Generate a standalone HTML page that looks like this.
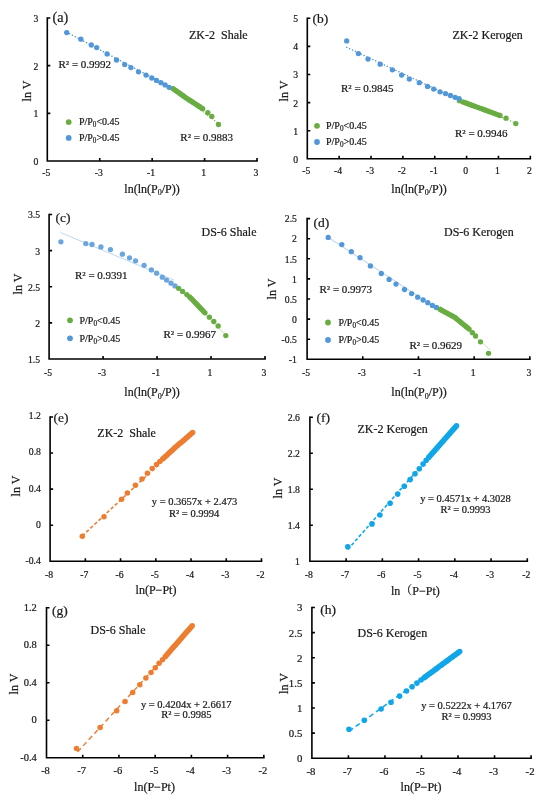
<!DOCTYPE html>
<html lang="en"><head><meta charset="utf-8"><title>FHH fractal plots</title>
<style>html,body{margin:0;padding:0;background:#fff}svg{display:block}text{font-family:"Liberation Serif","Times New Roman",serif;fill:#1a1a1a;stroke:#1a1a1a;stroke-width:0.22px}</style>
</head><body>
<svg width="550" height="807" viewBox="0 0 550 807">
<rect width="550" height="807" fill="#fff"/>
<g id="panel-a">
<path d="M47.3 17.2V161H257.8" fill="none" stroke="#000" stroke-width="1.6"/>
<path d="M99.73 161v-3M152.16 161v-3M204.59 161v-3M257.02 161v-3M47.3 113.33h3M47.3 65.66h3M47.3 17.99h3" fill="none" stroke="#000" stroke-width="1.6"/>
<text x="46.3" y="176.3" font-size="9.7" text-anchor="middle" >-5</text>
<text x="98.73" y="176.3" font-size="9.7" text-anchor="middle" >-3</text>
<text x="151.16" y="176.3" font-size="9.7" text-anchor="middle" >-1</text>
<text x="203.59" y="176.3" font-size="9.7" text-anchor="middle" >1</text>
<text x="256.02" y="176.3" font-size="9.7" text-anchor="middle" >3</text>
<text x="38.3" y="164.9" font-size="9.7" text-anchor="end" >0</text>
<text x="38.3" y="117.23" font-size="9.7" text-anchor="end" >1</text>
<text x="38.3" y="69.56" font-size="9.7" text-anchor="end" >2</text>
<text x="38.3" y="21.89" font-size="9.7" text-anchor="end" >3</text>
<line x1="66.7" y1="32.2" x2="171" y2="87.6" stroke="#5297d8" stroke-width="1.5" stroke-dasharray="0.1 3.1" stroke-linecap="round"/>
<line x1="173" y1="89" x2="218.5" y2="123.5" stroke="#69ad42" stroke-width="1.2" stroke-dasharray="0.1 2.8" stroke-linecap="round"/>
<g fill="#69ad42"><circle cx="173.1" cy="88.7" r="2.65"/><circle cx="174.71" cy="89.84" r="2.65"/><circle cx="176.32" cy="90.97" r="2.65"/><circle cx="177.94" cy="92.11" r="2.65"/><circle cx="179.55" cy="93.25" r="2.65"/><circle cx="181.16" cy="94.38" r="2.65"/><circle cx="182.77" cy="95.52" r="2.65"/><circle cx="184.38" cy="96.66" r="2.65"/><circle cx="185.99" cy="97.8" r="2.65"/><circle cx="187.61" cy="98.85" r="2.65"/><circle cx="189.22" cy="99.9" r="2.65"/><circle cx="190.83" cy="100.95" r="2.65"/><circle cx="192.44" cy="102" r="2.65"/><circle cx="194.05" cy="103.06" r="2.65"/><circle cx="195.66" cy="104.11" r="2.65"/><circle cx="197.28" cy="105.16" r="2.65"/><circle cx="198.89" cy="106.21" r="2.65"/><circle cx="200.5" cy="107.26" r="2.65"/><circle cx="202.7" cy="108.7" r="2.65"/><circle cx="207.8" cy="112.7" r="2.65"/><circle cx="211.8" cy="116.4" r="2.65"/><circle cx="218.5" cy="124.5" r="2.65"/></g>
<g fill="#5297d8"><circle cx="66.7" cy="32.6" r="2.65"/><circle cx="80.9" cy="39.2" r="2.65"/><circle cx="91.3" cy="45" r="2.65"/><circle cx="96.7" cy="47.6" r="2.65"/><circle cx="107.1" cy="53.9" r="2.65"/><circle cx="116.5" cy="60" r="2.65"/><circle cx="124.7" cy="64.6" r="2.65"/><circle cx="130.9" cy="67.6" r="2.65"/><circle cx="138.5" cy="71.8" r="2.65"/><circle cx="146" cy="75.1" r="2.65"/><circle cx="151.8" cy="78" r="2.65"/><circle cx="156.5" cy="80.4" r="2.65"/><circle cx="160.9" cy="82.7" r="2.65"/><circle cx="165.1" cy="84.9" r="2.65"/><circle cx="169.1" cy="87.3" r="2.65"/></g>
<text x="52.5" y="22.1" font-size="14.2" text-anchor="start" >(a)</text>
<text x="189" y="39.3" font-size="12" text-anchor="start" >ZK-2&#160; Shale</text>
<text x="58.5" y="68" font-size="11" text-anchor="start" >R² = 0.9992</text>
<text x="180.3" y="141.2" font-size="11" text-anchor="start" >R² = 0.9883</text>
<circle cx="68.7" cy="122.1" r="2.9" fill="#69ad42"/>
<circle cx="68.7" cy="137.9" r="2.9" fill="#5297d8"/>
<text x="78.9" y="125.4" font-size="10" text-anchor="start" >P/P<tspan font-size="7.2" dy="2">0</tspan><tspan dy="-2">&lt;0.45</tspan></text>
<text x="78.9" y="141.2" font-size="10" text-anchor="start" >P/P<tspan font-size="7.2" dy="2">0</tspan><tspan dy="-2">&gt;0.45</tspan></text>
<text transform="translate(30.5 91) rotate(-90)" font-size="12" text-anchor="middle">ln V</text>
<text x="152" y="192.5" font-size="12" text-anchor="middle" >ln(ln(P<tspan font-size="8" dy="2.5">0</tspan><tspan dy="-2.5">/P))</tspan></text>
</g>
<g id="panel-b">
<path d="M307.3 17.5V158.8H531.1" fill="none" stroke="#000" stroke-width="1.6"/>
<path d="M339.16 158.8v-3M371.02 158.8v-3M402.88 158.8v-3M434.74 158.8v-3M466.6 158.8v-3M498.46 158.8v-3M530.32 158.8v-3M307.3 130.7h3M307.3 102.6h3M307.3 74.5h3M307.3 46.4h3M307.3 18.3h3" fill="none" stroke="#000" stroke-width="1.6"/>
<text x="306.3" y="173.7" font-size="9.7" text-anchor="middle" >-5</text>
<text x="338.16" y="173.7" font-size="9.7" text-anchor="middle" >-4</text>
<text x="370.02" y="173.7" font-size="9.7" text-anchor="middle" >-3</text>
<text x="401.88" y="173.7" font-size="9.7" text-anchor="middle" >-2</text>
<text x="433.74" y="173.7" font-size="9.7" text-anchor="middle" >-1</text>
<text x="465.6" y="173.7" font-size="9.7" text-anchor="middle" >0</text>
<text x="497.46" y="173.7" font-size="9.7" text-anchor="middle" >1</text>
<text x="529.32" y="173.7" font-size="9.7" text-anchor="middle" >2</text>
<text x="298.1" y="162.7" font-size="9.7" text-anchor="end" >0</text>
<text x="298.1" y="134.6" font-size="9.7" text-anchor="end" >1</text>
<text x="298.1" y="106.5" font-size="9.7" text-anchor="end" >2</text>
<text x="298.1" y="78.4" font-size="9.7" text-anchor="end" >3</text>
<text x="298.1" y="50.3" font-size="9.7" text-anchor="end" >4</text>
<text x="298.1" y="22.2" font-size="9.7" text-anchor="end" >5</text>
<line x1="346.7" y1="47.3" x2="459.5" y2="100.2" stroke="#5297d8" stroke-width="1.5" stroke-dasharray="0.1 3.1" stroke-linecap="round"/>
<line x1="462" y1="101.5" x2="515.8" y2="123" stroke="#69ad42" stroke-width="1.2" stroke-dasharray="0.1 2.8" stroke-linecap="round"/>
<g fill="#69ad42"><circle cx="459.4" cy="100.7" r="2.65"/><circle cx="462.6" cy="101.8" r="2.65"/><circle cx="464.57" cy="102.52" r="2.65"/><circle cx="466.54" cy="103.24" r="2.65"/><circle cx="468.51" cy="103.96" r="2.65"/><circle cx="470.47" cy="104.68" r="2.65"/><circle cx="472.44" cy="105.41" r="2.65"/><circle cx="474.41" cy="106.13" r="2.65"/><circle cx="476.38" cy="106.85" r="2.65"/><circle cx="478.35" cy="107.57" r="2.65"/><circle cx="480.32" cy="108.29" r="2.65"/><circle cx="482.28" cy="109.01" r="2.65"/><circle cx="484.25" cy="109.73" r="2.65"/><circle cx="486.22" cy="110.45" r="2.65"/><circle cx="488.19" cy="111.17" r="2.65"/><circle cx="490.16" cy="111.89" r="2.65"/><circle cx="492.13" cy="112.62" r="2.65"/><circle cx="494.09" cy="113.34" r="2.65"/><circle cx="496.06" cy="114.06" r="2.65"/><circle cx="498.03" cy="114.78" r="2.65"/><circle cx="500" cy="115.5" r="2.65"/><circle cx="506" cy="118.2" r="2.65"/><circle cx="515.8" cy="123.6" r="2.65"/></g>
<g fill="#5297d8"><circle cx="346.7" cy="40.9" r="2.65"/><circle cx="358.4" cy="53.6" r="2.65"/><circle cx="368" cy="59.1" r="2.65"/><circle cx="380.2" cy="64.2" r="2.65"/><circle cx="392.4" cy="69.8" r="2.65"/><circle cx="401.6" cy="75.1" r="2.65"/><circle cx="409.3" cy="79.1" r="2.65"/><circle cx="419.3" cy="82.7" r="2.65"/><circle cx="427.5" cy="86.4" r="2.65"/><circle cx="433.7" cy="89.1" r="2.65"/><circle cx="440" cy="91.8" r="2.65"/><circle cx="445.5" cy="93.6" r="2.65"/><circle cx="450.4" cy="95.5" r="2.65"/><circle cx="455.1" cy="97.3" r="2.65"/><circle cx="459.1" cy="98.7" r="2.65"/></g>
<text x="312.5" y="22.5" font-size="13.5" text-anchor="start" >(b)</text>
<text x="452.5" y="39.3" font-size="12" text-anchor="start" >ZK-2 Kerogen</text>
<text x="341" y="91.5" font-size="11" text-anchor="start" >R² = 0.9845</text>
<text x="455" y="136.5" font-size="11" text-anchor="start" >R² = 0.9946</text>
<circle cx="317" cy="125.8" r="2.9" fill="#69ad42"/>
<circle cx="317" cy="142" r="2.9" fill="#5297d8"/>
<text x="326" y="129.1" font-size="10" text-anchor="start" >P/P<tspan font-size="7.2" dy="2">0</tspan><tspan dy="-2">&lt;0.45</tspan></text>
<text x="326" y="145.3" font-size="10" text-anchor="start" >P/P<tspan font-size="7.2" dy="2">0</tspan><tspan dy="-2">&gt;0.45</tspan></text>
<text transform="translate(287.7 91) rotate(-90)" font-size="12" text-anchor="middle">ln V</text>
<text x="419" y="192.5" font-size="12" text-anchor="middle" >ln(ln(P<tspan font-size="8" dy="2.5">0</tspan><tspan dy="-2.5">/P))</tspan></text>
</g>
<g id="panel-c">
<path d="M49.1 213.7V359H265.8" fill="none" stroke="#000" stroke-width="1.6"/>
<path d="M103.08 359v-3M157.06 359v-3M211.04 359v-3M265.02 359v-3M49.1 322.87h3M49.1 286.74h3M49.1 250.61h3M49.1 214.48h3" fill="none" stroke="#000" stroke-width="1.6"/>
<text x="48.1" y="375.7" font-size="9.7" text-anchor="middle" >-5</text>
<text x="102.08" y="375.7" font-size="9.7" text-anchor="middle" >-3</text>
<text x="156.06" y="375.7" font-size="9.7" text-anchor="middle" >-1</text>
<text x="210.04" y="375.7" font-size="9.7" text-anchor="middle" >1</text>
<text x="264.02" y="375.7" font-size="9.7" text-anchor="middle" >3</text>
<text x="40.1" y="362.9" font-size="9.7" text-anchor="end" >1.5</text>
<text x="40.1" y="326.77" font-size="9.7" text-anchor="end" >2</text>
<text x="40.1" y="290.64" font-size="9.7" text-anchor="end" >2.5</text>
<text x="40.1" y="254.51" font-size="9.7" text-anchor="end" >3</text>
<text x="40.1" y="218.38" font-size="9.7" text-anchor="end" >3.5</text>
<line x1="60.9" y1="232.7" x2="174" y2="280.1" stroke="#adcbea" stroke-width="0.8" stroke-linecap="round"/>
<line x1="178" y1="287.5" x2="225.8" y2="335.2" stroke="#a9d18e" stroke-width="0.7" stroke-linecap="round"/>
<g fill="#6aa5e0"><circle cx="60.9" cy="241.8" r="2.65"/><circle cx="85.8" cy="243.6" r="2.65"/><circle cx="92" cy="244.5" r="2.65"/><circle cx="100.9" cy="246.9" r="2.65"/><circle cx="110.4" cy="249.6" r="2.65"/><circle cx="122.4" cy="254.2" r="2.65"/><circle cx="129.5" cy="257.8" r="2.65"/><circle cx="135.5" cy="260.8" r="2.65"/><circle cx="144.1" cy="265.3" r="2.65"/><circle cx="151.4" cy="269.9" r="2.65"/><circle cx="156.6" cy="273.2" r="2.65"/><circle cx="162.3" cy="277.2" r="2.65"/><circle cx="166.6" cy="280.1" r="2.65"/><circle cx="171" cy="283.2" r="2.65"/><circle cx="175" cy="285.9" r="2.65"/></g>
<g fill="#69ad42"><circle cx="178.6" cy="288.3" r="2.65"/><circle cx="182.6" cy="291.4" r="2.65"/><circle cx="186.8" cy="294.6" r="2.65"/><circle cx="189.5" cy="296.86" r="2.65"/><circle cx="190.91" cy="298.13" r="2.65"/><circle cx="192.32" cy="299.59" r="2.65"/><circle cx="193.73" cy="301.06" r="2.65"/><circle cx="195.14" cy="302.53" r="2.65"/><circle cx="196.55" cy="304" r="2.65"/><circle cx="197.95" cy="305.46" r="2.65"/><circle cx="199.36" cy="306.93" r="2.65"/><circle cx="200.77" cy="308.4" r="2.65"/><circle cx="202.18" cy="309.87" r="2.65"/><circle cx="203.59" cy="311.33" r="2.65"/><circle cx="205" cy="312.8" r="2.65"/><circle cx="209.4" cy="317.2" r="2.65"/><circle cx="213.8" cy="321.5" r="2.65"/><circle cx="218.2" cy="326" r="2.65"/><circle cx="225.8" cy="335.6" r="2.65"/></g>
<text x="55.5" y="221.5" font-size="13.5" text-anchor="start" >(c)</text>
<text x="201.5" y="236.3" font-size="12" text-anchor="start" >DS-6 Shale</text>
<text x="75" y="279" font-size="11" text-anchor="start" >R² = 0.9391</text>
<text x="163.5" y="337.5" font-size="11" text-anchor="start" >R² = 0.9967</text>
<circle cx="70" cy="320.3" r="2.9" fill="#69ad42"/>
<circle cx="70" cy="338.3" r="2.9" fill="#5297d8"/>
<text x="79.5" y="323.6" font-size="10" text-anchor="start" >P/P<tspan font-size="7.2" dy="2">0</tspan><tspan dy="-2">&lt;0.45</tspan></text>
<text x="79.5" y="341.6" font-size="10" text-anchor="start" >P/P<tspan font-size="7.2" dy="2">0</tspan><tspan dy="-2">&gt;0.45</tspan></text>
<text transform="translate(21.5 284) rotate(-90)" font-size="12" text-anchor="middle">ln V</text>
<text x="152" y="396" font-size="12" text-anchor="middle" >ln(ln(P<tspan font-size="8" dy="2.5">0</tspan><tspan dy="-2.5">/P))</tspan></text>
</g>
<g id="panel-d">
<path d="M307.1 217.8V359.3H530.6" fill="none" stroke="#000" stroke-width="1.6"/>
<path d="M362.78 359.3v-3M418.46 359.3v-3M474.14 359.3v-3M529.82 359.3v-3M307.1 339.2h3M307.1 319.1h3M307.1 299h3M307.1 278.9h3M307.1 258.8h3M307.1 238.7h3M307.1 218.6h3" fill="none" stroke="#000" stroke-width="1.6"/>
<text x="306.1" y="376" font-size="9.7" text-anchor="middle" >-5</text>
<text x="361.78" y="376" font-size="9.7" text-anchor="middle" >-3</text>
<text x="417.46" y="376" font-size="9.7" text-anchor="middle" >-1</text>
<text x="473.14" y="376" font-size="9.7" text-anchor="middle" >1</text>
<text x="528.82" y="376" font-size="9.7" text-anchor="middle" >3</text>
<text x="296.9" y="363" font-size="9.7" text-anchor="end" >-1</text>
<text x="296.9" y="342.9" font-size="9.7" text-anchor="end" >-0.5</text>
<text x="296.9" y="322.8" font-size="9.7" text-anchor="end" >0</text>
<text x="296.9" y="302.7" font-size="9.7" text-anchor="end" >0.5</text>
<text x="296.9" y="282.6" font-size="9.7" text-anchor="end" >1</text>
<text x="296.9" y="262.5" font-size="9.7" text-anchor="end" >1.5</text>
<text x="296.9" y="242.4" font-size="9.7" text-anchor="end" >2</text>
<text x="296.9" y="222.3" font-size="9.7" text-anchor="end" >2.5</text>
<line x1="328.2" y1="237.4" x2="437" y2="308.4" stroke="#9dc3e6" stroke-width="0.8" stroke-linecap="round"/>
<line x1="440" y1="306" x2="490" y2="349.5" stroke="#a9d18e" stroke-width="0.7" stroke-dasharray="1.5 1.2" stroke-linecap="round"/>
<g fill="#5297d8"><circle cx="328.2" cy="237.4" r="2.65"/><circle cx="341.8" cy="244.6" r="2.65"/><circle cx="351.3" cy="251.7" r="2.65"/><circle cx="360" cy="257.7" r="2.65"/><circle cx="370.4" cy="265.9" r="2.65"/><circle cx="381.3" cy="273.5" r="2.65"/><circle cx="389.1" cy="279.4" r="2.65"/><circle cx="396" cy="284.1" r="2.65"/><circle cx="404.5" cy="289.5" r="2.65"/><circle cx="411.6" cy="293.6" r="2.65"/><circle cx="417.7" cy="297.2" r="2.65"/><circle cx="423.1" cy="300" r="2.65"/><circle cx="427.8" cy="302.7" r="2.65"/><circle cx="432.4" cy="305.5" r="2.65"/><circle cx="436.4" cy="307.5" r="2.65"/></g>
<g fill="#69ad42"><circle cx="440" cy="309.3" r="2.65"/><circle cx="441.62" cy="310.18" r="2.65"/><circle cx="443.23" cy="311.07" r="2.65"/><circle cx="444.85" cy="311.95" r="2.65"/><circle cx="446.47" cy="312.84" r="2.65"/><circle cx="448.08" cy="313.72" r="2.65"/><circle cx="449.7" cy="314.6" r="2.65"/><circle cx="451.32" cy="315.49" r="2.65"/><circle cx="452.93" cy="316.37" r="2.65"/><circle cx="454.55" cy="317.25" r="2.65"/><circle cx="456.17" cy="318.46" r="2.65"/><circle cx="457.78" cy="319.79" r="2.65"/><circle cx="459.4" cy="321.12" r="2.65"/><circle cx="461.02" cy="322.45" r="2.65"/><circle cx="462.63" cy="323.78" r="2.65"/><circle cx="464.25" cy="325.11" r="2.65"/><circle cx="465.87" cy="326.44" r="2.65"/><circle cx="467.48" cy="327.77" r="2.65"/><circle cx="469.1" cy="329.1" r="2.65"/><circle cx="472.4" cy="332.7" r="2.65"/><circle cx="475.5" cy="336" r="2.65"/><circle cx="480.5" cy="341.8" r="2.65"/><circle cx="488.5" cy="353.3" r="2.65"/></g>
<text x="313.5" y="226.5" font-size="13.5" text-anchor="start" >(d)</text>
<text x="444" y="236.3" font-size="12" text-anchor="start" >DS-6 Kerogen</text>
<text x="319.5" y="292.5" font-size="11" text-anchor="start" >R² = 0.9973</text>
<text x="409.5" y="348.5" font-size="11" text-anchor="start" >R² = 0.9629</text>
<circle cx="328" cy="322.5" r="2.9" fill="#69ad42"/>
<circle cx="328" cy="340" r="2.9" fill="#5297d8"/>
<text x="338.5" y="325.8" font-size="10" text-anchor="start" >P/P<tspan font-size="7.2" dy="2">0</tspan><tspan dy="-2">&lt;0.45</tspan></text>
<text x="338.5" y="343.3" font-size="10" text-anchor="start" >P/P<tspan font-size="7.2" dy="2">0</tspan><tspan dy="-2">&gt;0.45</tspan></text>
<text transform="translate(275.5 289) rotate(-90)" font-size="12" text-anchor="middle">ln V</text>
<text x="419" y="396" font-size="12" text-anchor="middle" >ln(ln(P<tspan font-size="8" dy="2.5">0</tspan><tspan dy="-2.5">/P))</tspan></text>
</g>
<g id="panel-e">
<path d="M50.1 416.2V561.3H262.3" fill="none" stroke="#000" stroke-width="1.6"/>
<path d="M85.33 561.3v-3M120.56 561.3v-3M155.79 561.3v-3M191.02 561.3v-3M226.25 561.3v-3M261.48 561.3v-3M50.1 525.22h3M50.1 489.14h3M50.1 453.06h3M50.1 416.98h3" fill="none" stroke="#000" stroke-width="1.6"/>
<text x="49.1" y="577.6" font-size="9.7" text-anchor="middle" >-8</text>
<text x="84.33" y="577.6" font-size="9.7" text-anchor="middle" >-7</text>
<text x="119.56" y="577.6" font-size="9.7" text-anchor="middle" >-6</text>
<text x="154.79" y="577.6" font-size="9.7" text-anchor="middle" >-5</text>
<text x="190.02" y="577.6" font-size="9.7" text-anchor="middle" >-4</text>
<text x="225.25" y="577.6" font-size="9.7" text-anchor="middle" >-3</text>
<text x="260.48" y="577.6" font-size="9.7" text-anchor="middle" >-2</text>
<text x="40.9" y="563.7" font-size="9.7" text-anchor="end" >-0.4</text>
<text x="40.9" y="527.62" font-size="9.7" text-anchor="end" >0</text>
<text x="40.9" y="491.54" font-size="9.7" text-anchor="end" >0.4</text>
<text x="40.9" y="455.46" font-size="9.7" text-anchor="end" >0.8</text>
<text x="40.9" y="419.38" font-size="9.7" text-anchor="end" >1.2</text>
<line x1="82.2" y1="536" x2="192.6" y2="432.6" stroke="#ed7d31" stroke-width="1.6" stroke-dasharray="3.4 2.2" stroke-linecap="butt"/>
<g fill="#ed7d31"><circle cx="82.3" cy="536.2" r="2.75"/><circle cx="104" cy="516.8" r="2.75"/><circle cx="121.6" cy="499.2" r="2.75"/><circle cx="127.4" cy="493.1" r="2.75"/><circle cx="135.4" cy="485.3" r="2.75"/><circle cx="142" cy="478.9" r="2.75"/><circle cx="147.4" cy="473.2" r="2.75"/><circle cx="152.2" cy="468.6" r="2.75"/><circle cx="156.5" cy="464.6" r="2.75"/><circle cx="159.8" cy="461.6" r="2.75"/><circle cx="162.6" cy="459.04" r="2.75"/><circle cx="164.03" cy="457.74" r="2.75"/><circle cx="165.46" cy="456.43" r="2.75"/><circle cx="166.89" cy="455.13" r="2.75"/><circle cx="168.31" cy="453.82" r="2.75"/><circle cx="169.74" cy="452.52" r="2.75"/><circle cx="171.17" cy="451.21" r="2.75"/><circle cx="172.6" cy="449.91" r="2.75"/><circle cx="174.03" cy="448.6" r="2.75"/><circle cx="175.46" cy="447.3" r="2.75"/><circle cx="176.89" cy="446.04" r="2.75"/><circle cx="178.31" cy="444.82" r="2.75"/><circle cx="179.74" cy="443.6" r="2.75"/><circle cx="181.17" cy="442.38" r="2.75"/><circle cx="182.6" cy="441.15" r="2.75"/><circle cx="184.03" cy="439.93" r="2.75"/><circle cx="185.46" cy="438.71" r="2.75"/><circle cx="186.89" cy="437.49" r="2.75"/><circle cx="188.31" cy="436.27" r="2.75"/><circle cx="189.74" cy="435.04" r="2.75"/><circle cx="191.17" cy="433.82" r="2.75"/><circle cx="192.6" cy="432.6" r="2.75"/></g>
<text x="53.5" y="422" font-size="13.5" text-anchor="start" >(e)</text>
<text x="97.3" y="437.3" font-size="12" text-anchor="start" >ZK-2&#160; Shale</text>
<text x="194.5" y="504.7" font-size="10.5" text-anchor="middle" >y = 0.3657x + 2.473</text>
<text x="194.2" y="516.5" font-size="10.5" text-anchor="middle" >R² = 0.9994</text>
<text transform="translate(19.7 486) rotate(-90)" font-size="12" text-anchor="middle">ln V</text>
<text x="156" y="594" font-size="12" text-anchor="middle" >ln(P−Pt)</text>
</g>
<g id="panel-f">
<path d="M309.9 416.5V561.3H528.1" fill="none" stroke="#000" stroke-width="1.6"/>
<path d="M346.13 561.3v-3M382.36 561.3v-3M418.59 561.3v-3M454.82 561.3v-3M491.05 561.3v-3M527.28 561.3v-3M309.9 525.3h3M309.9 489.3h3M309.9 453.3h3M309.9 417.3h3" fill="none" stroke="#000" stroke-width="1.6"/>
<text x="308.9" y="578" font-size="9.7" text-anchor="middle" >-8</text>
<text x="345.13" y="578" font-size="9.7" text-anchor="middle" >-7</text>
<text x="381.36" y="578" font-size="9.7" text-anchor="middle" >-6</text>
<text x="417.59" y="578" font-size="9.7" text-anchor="middle" >-5</text>
<text x="453.82" y="578" font-size="9.7" text-anchor="middle" >-4</text>
<text x="490.05" y="578" font-size="9.7" text-anchor="middle" >-3</text>
<text x="526.28" y="578" font-size="9.7" text-anchor="middle" >-2</text>
<text x="299.9" y="564.7" font-size="9.7" text-anchor="end" >1</text>
<text x="299.9" y="528.7" font-size="9.7" text-anchor="end" >1.4</text>
<text x="299.9" y="492.7" font-size="9.7" text-anchor="end" >1.8</text>
<text x="299.9" y="456.7" font-size="9.7" text-anchor="end" >2.2</text>
<text x="299.9" y="420.7" font-size="9.7" text-anchor="end" >2.6</text>
<line x1="347.8" y1="549.5" x2="456.5" y2="425.7" stroke="#10a6e8" stroke-width="1.6" stroke-dasharray="3.4 2.2" stroke-linecap="butt"/>
<g fill="#10a6e8"><circle cx="347.8" cy="546.8" r="2.8"/><circle cx="372" cy="523.9" r="2.8"/><circle cx="379.9" cy="515" r="2.8"/><circle cx="390.1" cy="503.3" r="2.8"/><circle cx="397.7" cy="494.1" r="2.8"/><circle cx="404.3" cy="486.2" r="2.8"/><circle cx="410.2" cy="479.6" r="2.8"/><circle cx="415" cy="473.8" r="2.8"/><circle cx="419.3" cy="468.7" r="2.8"/><circle cx="423.1" cy="464.1" r="2.8"/><circle cx="426.2" cy="460.3" r="2.8"/><circle cx="428.8" cy="457.33" r="2.8"/><circle cx="430.12" cy="455.82" r="2.8"/><circle cx="431.44" cy="454.32" r="2.8"/><circle cx="432.76" cy="452.81" r="2.8"/><circle cx="434.08" cy="451.31" r="2.8"/><circle cx="435.4" cy="449.8" r="2.8"/><circle cx="436.71" cy="448.29" r="2.8"/><circle cx="438.03" cy="446.79" r="2.8"/><circle cx="439.35" cy="445.28" r="2.8"/><circle cx="440.67" cy="443.77" r="2.8"/><circle cx="441.99" cy="442.27" r="2.8"/><circle cx="443.31" cy="440.76" r="2.8"/><circle cx="444.63" cy="439.26" r="2.8"/><circle cx="445.95" cy="437.75" r="2.8"/><circle cx="447.27" cy="436.24" r="2.8"/><circle cx="448.59" cy="434.74" r="2.8"/><circle cx="449.9" cy="433.23" r="2.8"/><circle cx="451.22" cy="431.72" r="2.8"/><circle cx="452.54" cy="430.22" r="2.8"/><circle cx="453.86" cy="428.71" r="2.8"/><circle cx="455.18" cy="427.21" r="2.8"/><circle cx="456.5" cy="425.7" r="2.8"/></g>
<text x="316.5" y="422" font-size="13.5" text-anchor="start" >(f)</text>
<text x="357.5" y="433.3" font-size="12" text-anchor="start" >ZK-2 Kerogen</text>
<text x="465.5" y="501.5" font-size="10.5" text-anchor="middle" >y = 0.4571x + 4.3028</text>
<text x="465.5" y="513" font-size="10.5" text-anchor="middle" >R² = 0.9993</text>
<text transform="translate(281.5 488) rotate(-90)" font-size="12" text-anchor="middle">ln V</text>
<text x="391" y="595" font-size="12" text-anchor="start" style="font-family:&quot;Liberation Serif&quot;,&quot;Noto Serif CJK SC&quot;,serif">ln（P−Pt)</text>
</g>
<g id="panel-g">
<path d="M46.5 607V757.8H264.6" fill="none" stroke="#000" stroke-width="1.6"/>
<path d="M82.72 757.8v-3M118.94 757.8v-3M155.16 757.8v-3M191.38 757.8v-3M227.6 757.8v-3M263.82 757.8v-3M46.5 720.3h3M46.5 682.8h3M46.5 645.3h3M46.5 607.8h3" fill="none" stroke="#000" stroke-width="1.6"/>
<text x="45.5" y="774.1" font-size="10.5" text-anchor="middle" >-8</text>
<text x="81.72" y="774.1" font-size="10.5" text-anchor="middle" >-7</text>
<text x="117.94" y="774.1" font-size="10.5" text-anchor="middle" >-6</text>
<text x="154.16" y="774.1" font-size="10.5" text-anchor="middle" >-5</text>
<text x="190.38" y="774.1" font-size="10.5" text-anchor="middle" >-4</text>
<text x="226.6" y="774.1" font-size="10.5" text-anchor="middle" >-3</text>
<text x="262.82" y="774.1" font-size="10.5" text-anchor="middle" >-2</text>
<text x="36.8" y="760.97" font-size="10.5" text-anchor="end" >-0.4</text>
<text x="36.8" y="723.47" font-size="10.5" text-anchor="end" >0</text>
<text x="36.8" y="685.97" font-size="10.5" text-anchor="end" >0.4</text>
<text x="36.8" y="648.47" font-size="10.5" text-anchor="end" >0.8</text>
<text x="36.8" y="610.97" font-size="10.5" text-anchor="end" >1.2</text>
<line x1="77.5" y1="752" x2="192.2" y2="627.2" stroke="#ed7d31" stroke-width="1.4" stroke-dasharray="5 3.3" stroke-linecap="butt"/>
<g fill="#ed7d31"><circle cx="76.5" cy="748.5" r="2.75"/><circle cx="100.1" cy="727.5" r="2.75"/><circle cx="116.7" cy="710.7" r="2.75"/><circle cx="125.1" cy="701.5" r="2.75"/><circle cx="132.7" cy="692.6" r="2.75"/><circle cx="139.8" cy="684.7" r="2.75"/><circle cx="145.9" cy="678.1" r="2.75"/><circle cx="151" cy="672.5" r="2.75"/><circle cx="155.3" cy="667.7" r="2.75"/><circle cx="159.1" cy="663.3" r="2.75"/><circle cx="162.5" cy="659.8" r="2.75"/><circle cx="165.2" cy="656.7" r="2.75"/><circle cx="166.49" cy="655.22" r="2.75"/><circle cx="167.77" cy="653.75" r="2.75"/><circle cx="169.06" cy="652.27" r="2.75"/><circle cx="170.34" cy="650.8" r="2.75"/><circle cx="171.63" cy="649.32" r="2.75"/><circle cx="172.91" cy="647.84" r="2.75"/><circle cx="174.2" cy="646.37" r="2.75"/><circle cx="175.49" cy="644.89" r="2.75"/><circle cx="176.77" cy="643.41" r="2.75"/><circle cx="178.06" cy="641.94" r="2.75"/><circle cx="179.34" cy="640.46" r="2.75"/><circle cx="180.63" cy="638.99" r="2.75"/><circle cx="181.91" cy="637.51" r="2.75"/><circle cx="183.2" cy="636.03" r="2.75"/><circle cx="184.49" cy="634.56" r="2.75"/><circle cx="185.77" cy="633.08" r="2.75"/><circle cx="187.06" cy="631.6" r="2.75"/><circle cx="188.34" cy="630.13" r="2.75"/><circle cx="189.63" cy="628.65" r="2.75"/><circle cx="190.91" cy="627.18" r="2.75"/><circle cx="192.2" cy="625.7" r="2.75"/></g>
<text x="52" y="615" font-size="13.5" text-anchor="start" >(g)</text>
<text x="90.5" y="634" font-size="12" text-anchor="start" >DS-6 Shale</text>
<text x="186.2" y="707.6" font-size="10.5" text-anchor="middle" >y = 0.4204x + 2.6617</text>
<text x="186.3" y="718.2" font-size="10.5" text-anchor="middle" >R² = 0.9985</text>
<text transform="translate(17.7 684) rotate(-90)" font-size="12" text-anchor="middle">ln V</text>
<text x="154.5" y="791" font-size="12" text-anchor="middle" >ln(P−Pt)</text>
</g>
<g id="panel-h">
<path d="M311.9 606.7V758.3H531.9" fill="none" stroke="#000" stroke-width="1.6"/>
<path d="M348.43 758.3v-3M384.96 758.3v-3M421.49 758.3v-3M458.02 758.3v-3M494.55 758.3v-3M531.08 758.3v-3M311.9 733.17h3M311.9 708.04h3M311.9 682.91h3M311.9 657.78h3M311.9 632.65h3M311.9 607.52h3" fill="none" stroke="#000" stroke-width="1.6"/>
<text x="310.9" y="774.8" font-size="10.8" text-anchor="middle" >-8</text>
<text x="347.43" y="774.8" font-size="10.8" text-anchor="middle" >-7</text>
<text x="383.96" y="774.8" font-size="10.8" text-anchor="middle" >-6</text>
<text x="420.49" y="774.8" font-size="10.8" text-anchor="middle" >-5</text>
<text x="457.02" y="774.8" font-size="10.8" text-anchor="middle" >-4</text>
<text x="493.55" y="774.8" font-size="10.8" text-anchor="middle" >-3</text>
<text x="530.08" y="774.8" font-size="10.8" text-anchor="middle" >-2</text>
<text x="302.3" y="762.16" font-size="10.8" text-anchor="end" >0</text>
<text x="302.3" y="737.03" font-size="10.8" text-anchor="end" >0.5</text>
<text x="302.3" y="711.9" font-size="10.8" text-anchor="end" >1</text>
<text x="302.3" y="686.77" font-size="10.8" text-anchor="end" >1.5</text>
<text x="302.3" y="661.64" font-size="10.8" text-anchor="end" >2</text>
<text x="302.3" y="636.51" font-size="10.8" text-anchor="end" >2.5</text>
<text x="302.3" y="611.38" font-size="10.8" text-anchor="end" >3</text>
<line x1="349" y1="731.3" x2="459.7" y2="651.8" stroke="#10a6e8" stroke-width="1.5" stroke-dasharray="5 3.3" stroke-linecap="butt"/>
<g fill="#10a6e8"><circle cx="349" cy="729.3" r="2.8"/><circle cx="364.3" cy="720.2" r="2.8"/><circle cx="381.1" cy="709" r="2.8"/><circle cx="391" cy="702.2" r="2.8"/><circle cx="399.6" cy="696.1" r="2.8"/><circle cx="406.5" cy="691" r="2.8"/><circle cx="412.1" cy="686.7" r="2.8"/><circle cx="416.9" cy="683.1" r="2.8"/><circle cx="421" cy="680" r="2.8"/><circle cx="424" cy="677.79" r="2.8"/><circle cx="425.55" cy="676.65" r="2.8"/><circle cx="427.1" cy="675.5" r="2.8"/><circle cx="428.66" cy="674.36" r="2.8"/><circle cx="430.21" cy="673.22" r="2.8"/><circle cx="431.76" cy="672.08" r="2.8"/><circle cx="433.31" cy="670.93" r="2.8"/><circle cx="434.87" cy="669.79" r="2.8"/><circle cx="436.42" cy="668.65" r="2.8"/><circle cx="437.97" cy="667.5" r="2.8"/><circle cx="439.52" cy="666.36" r="2.8"/><circle cx="441.07" cy="665.22" r="2.8"/><circle cx="442.63" cy="664.07" r="2.8"/><circle cx="444.18" cy="662.93" r="2.8"/><circle cx="445.73" cy="661.79" r="2.8"/><circle cx="447.28" cy="660.64" r="2.8"/><circle cx="448.83" cy="659.5" r="2.8"/><circle cx="450.39" cy="658.36" r="2.8"/><circle cx="451.94" cy="657.22" r="2.8"/><circle cx="453.49" cy="656.07" r="2.8"/><circle cx="455.04" cy="654.93" r="2.8"/><circle cx="456.6" cy="653.79" r="2.8"/><circle cx="458.15" cy="652.64" r="2.8"/><circle cx="459.7" cy="651.5" r="2.8"/></g>
<text x="320.3" y="613.5" font-size="13.5" text-anchor="start" >(h)</text>
<text x="357.5" y="637.2" font-size="12" text-anchor="start" >DS-6 Kerogen</text>
<text x="466.5" y="708.5" font-size="10.5" text-anchor="middle" >y = 0.5222x + 4.1767</text>
<text x="466.5" y="720" font-size="10.5" text-anchor="middle" >R² = 0.9993</text>
<text transform="translate(287.8 683.5) rotate(-90)" font-size="12" text-anchor="middle">ln V</text>
<text x="421" y="791" font-size="12" text-anchor="middle" >ln(P−Pt)</text>
</g>
</svg></body></html>
